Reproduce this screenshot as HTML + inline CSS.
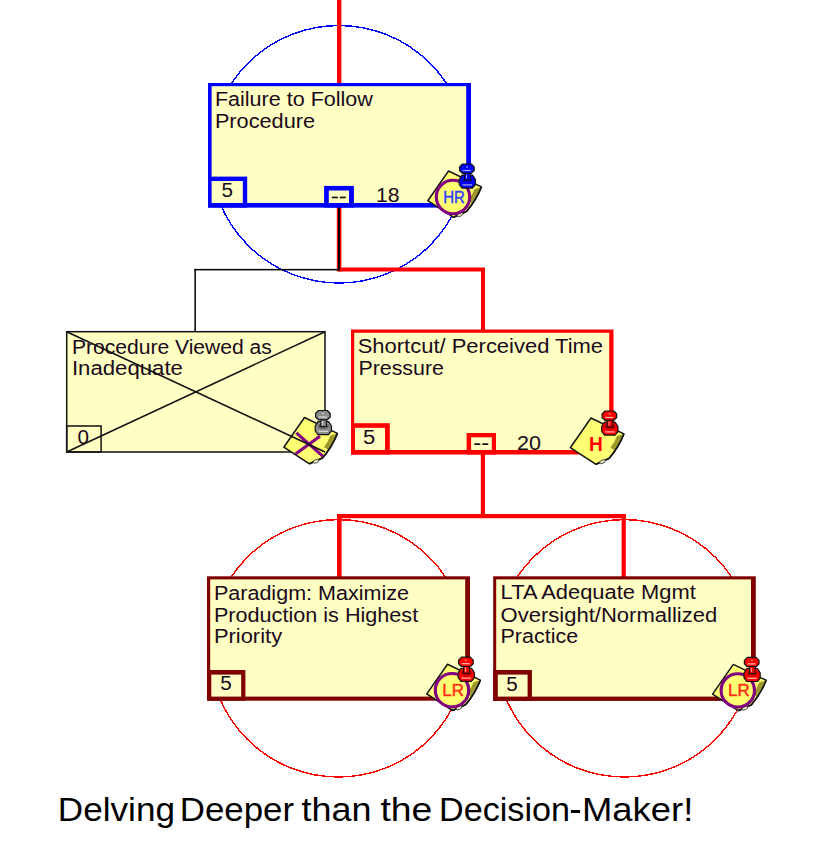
<!DOCTYPE html><html><head><meta charset="utf-8"><style>html,body{margin:0;padding:0;background:#fff;width:820px;height:855px;overflow:hidden}svg{display:block}text{font-family:"Liberation Sans",sans-serif;white-space:pre}</style></head><body>
<svg width="820" height="855" viewBox="0 0 820 855">
<circle cx="339" cy="154.25" r="128.75" fill="none" stroke="#0000FF" stroke-width="1.45" shape-rendering="crispEdges"/>
<circle cx="338.3" cy="648.3" r="128.7" fill="none" stroke="#FF0000" stroke-width="1.45" shape-rendering="crispEdges"/>
<circle cx="624.4" cy="648.3" r="128.7" fill="none" stroke="#FF0000" stroke-width="1.45" shape-rendering="crispEdges"/>
<g fill="#FF0000">
<rect x="337" y="0" width="4.4" height="85"/>
<rect x="336.8" y="205" width="4.6" height="66.4"/>
<rect x="338" y="267.5" width="147" height="4"/>
<rect x="481" y="268" width="4" height="63"/>
<rect x="480.8" y="452" width="4.2" height="66"/>
<rect x="337" y="514" width="288.8" height="4.2"/>
<rect x="337" y="514" width="4.6" height="64"/>
<rect x="621.6" y="514" width="4.2" height="64"/>
</g>
<g fill="#000">
<rect x="338" y="205" width="2" height="65.5"/>
<rect x="194.4" y="268.9" width="145" height="1.5"/>
<rect x="194.4" y="268.9" width="1.5" height="63"/>
</g>
<rect x="208" y="83" width="263.00" height="124.60" fill="#0000FF"/>
<rect x="211.6" y="86.2" width="254.60" height="116.80" fill="#FFFFC4"/>
<rect x="208" y="176.6" width="39.20" height="31.00" fill="#0000FF"/>
<rect x="211.6" y="181" width="31.20" height="22.00" fill="#FFFFC4"/>
<rect x="324.1" y="185.9" width="29.80" height="21.70" fill="#0000FF"/>
<rect x="328.8" y="190.5" width="20.20" height="12.50" fill="#FFFFC4"/>
<text x="214.9" y="105.7" font-size="19.5" fill="#1a0a1a" textLength="158" lengthAdjust="spacingAndGlyphs">Failure to Follow</text>
<text x="214.9" y="127.6" font-size="19.5" fill="#1a0a1a" textLength="100.2" lengthAdjust="spacingAndGlyphs">Procedure</text>
<text x="221.5" y="196.7" font-size="19.5" fill="#1a0a1a" textLength="11.5" lengthAdjust="spacingAndGlyphs">5</text>
<rect x="331.8" y="196.6" width="6" height="1.7" fill="#111"/><rect x="339.8" y="196.6" width="6" height="1.7" fill="#111"/>
<text x="376" y="202.2" font-size="19.5" fill="#1a0a1a" textLength="23.5" lengthAdjust="spacingAndGlyphs">18</text>
<g transform="translate(471,207.5)">
<path d="M-22.5,-36.5 L10.4,-20.6 Q5,-7 -4.5,4 L-17.5,9.8 L-43.2,-6.8 Z" fill="#FFFF73" stroke="#151515" stroke-width="1.5" stroke-linejoin="round"/>
<path d="M10.4,-20.6 Q6,-11 0.5,-4.5 L-3,-7 Q1,-12 3.5,-18.5 Z" fill="#9C982C"/>
<path d="M10.4,-20.6 Q5,-7 -4.5,4 L-17.5,9.8" fill="none" stroke="#151515" stroke-width="1.5"/>
<ellipse cx="-11" cy="7.2" rx="3.2" ry="1.6" transform="rotate(-25 -11 7.2)" fill="#E8E8C0" stroke="#333" stroke-width="0.8"/>
<circle cx="-18" cy="-10.5" r="16.7" fill="none" stroke="#800080" stroke-width="3.1"/>
<text x="-27.7" y="-4.7" font-size="16.5" fill="#3040FF" stroke="#3040FF" stroke-width="0.5" textLength="21.6" lengthAdjust="spacingAndGlyphs">HR</text>
<path d="M-9,-32.4 L1.6,-32.4 L4.4,-28 L4.4,-23 L1.5,-19.4 L-9,-19.4 L-11.8,-23 L-11.8,-28 Z" fill="#0000FF" stroke="#111" stroke-width="1.2" stroke-linejoin="round"/>
<ellipse cx="-3.7" cy="-28" rx="5.5" ry="3" fill="#0000B0"/>
<line x1="-8.5" y1="-22.6" x2="1" y2="-22.6" stroke="#A0A0FF" stroke-width="1.3"/>
<rect x="-6.3" y="-35" width="5.6" height="7.5" fill="#0000FF" stroke="#111" stroke-width="1"/>
<line x1="-4.5" y1="-33" x2="-4.5" y2="-29" stroke="#A0A0FF" stroke-width="1"/>
<path d="M-8.5,-43.5 L0.3,-43.5 L3.2,-40.5 L3.2,-37 L0.3,-34.2 L-8.5,-34.2 L-11.4,-37 L-11.4,-40.5 Z" fill="#0000FF" stroke="#111" stroke-width="1.2" stroke-linejoin="round"/>
<line x1="-8.3" y1="-37" x2="-0.2" y2="-37" stroke="#A0A0FF" stroke-width="1.3"/>
<rect x="-5" y="-41" width="2" height="1" fill="#A0A0FF"/>
</g>
<rect x="66.7" y="331.7" width="258.3" height="120.3" fill="#FFFFC4" stroke="#111" stroke-width="1.5"/>
<rect x="66.7" y="426" width="34.4" height="26" fill="none" stroke="#111" stroke-width="1.5"/>
<text x="71.9" y="353.6" font-size="19.5" fill="#1a0a1a" textLength="200" lengthAdjust="spacingAndGlyphs">Procedure Viewed as</text>
<text x="71.9" y="374.9" font-size="19.5" fill="#1a0a1a" textLength="111" lengthAdjust="spacingAndGlyphs">Inadequate</text>
<text x="77.5" y="443.7" font-size="19.5" fill="#1a0a1a" textLength="11.5" lengthAdjust="spacingAndGlyphs">0</text>
<g transform="translate(327,454)">
<path d="M-22.5,-36.5 L10.4,-20.6 Q5,-7 -4.5,4 L-17.5,9.8 L-43.2,-6.8 Z" fill="#FFFF73" stroke="#151515" stroke-width="1.5" stroke-linejoin="round"/>
<path d="M10.4,-20.6 Q6,-11 0.5,-4.5 L-3,-7 Q1,-12 3.5,-18.5 Z" fill="#9C982C"/>
<path d="M10.4,-20.6 Q5,-7 -4.5,4 L-17.5,9.8" fill="none" stroke="#151515" stroke-width="1.5"/>
<ellipse cx="-11" cy="7.2" rx="3.2" ry="1.6" transform="rotate(-25 -11 7.2)" fill="#E8E8C0" stroke="#333" stroke-width="0.8"/>
<line x1="-30.7" y1="-21.1" x2="-4" y2="2.3" stroke="#800080" stroke-width="3.1"/>
<line x1="-7" y1="-17.8" x2="-31.5" y2="0.1" stroke="#800080" stroke-width="3.1"/>
<path d="M-9,-32.4 L1.6,-32.4 L4.4,-28 L4.4,-23 L1.5,-19.4 L-9,-19.4 L-11.8,-23 L-11.8,-28 Z" fill="#8C8C8C" stroke="#111" stroke-width="1.2" stroke-linejoin="round"/>
<ellipse cx="-3.7" cy="-28" rx="5.5" ry="3" fill="#5A5A5A"/>
<line x1="-8.5" y1="-22.6" x2="1" y2="-22.6" stroke="#D8D8D8" stroke-width="1.3"/>
<rect x="-6.3" y="-35" width="5.6" height="7.5" fill="#8C8C8C" stroke="#111" stroke-width="1"/>
<line x1="-4.5" y1="-33" x2="-4.5" y2="-29" stroke="#D8D8D8" stroke-width="1"/>
<path d="M-8.5,-43.5 L0.3,-43.5 L3.2,-40.5 L3.2,-37 L0.3,-34.2 L-8.5,-34.2 L-11.4,-37 L-11.4,-40.5 Z" fill="#8C8C8C" stroke="#111" stroke-width="1.2" stroke-linejoin="round"/>
<line x1="-8.3" y1="-37" x2="-0.2" y2="-37" stroke="#D8D8D8" stroke-width="1.3"/>
<rect x="-5" y="-41" width="2" height="1" fill="#D8D8D8"/>
</g>
<line x1="66.7" y1="331.7" x2="325" y2="452" stroke="#111" stroke-width="1.5"/>
<line x1="66.7" y1="452" x2="325" y2="331.7" stroke="#111" stroke-width="1.5"/>
<rect x="351" y="329.5" width="262.50" height="125.00" fill="#FF0000"/>
<rect x="354.2" y="332.8" width="255.00" height="117.20" fill="#FFFFC4"/>
<rect x="351" y="423.2" width="38.80" height="31.30" fill="#FF0000"/>
<rect x="355" y="427.8" width="30.00" height="22.20" fill="#FFFFC4"/>
<rect x="466.6" y="433" width="29.40" height="21.50" fill="#FF0000"/>
<rect x="471.1" y="437.3" width="20.70" height="12.70" fill="#FFFFC4"/>
<text x="357.7" y="353" font-size="19.5" fill="#1a0a1a" textLength="245.4" lengthAdjust="spacingAndGlyphs">Shortcut/ Perceived Time</text>
<text x="358.4" y="374.5" font-size="19.5" fill="#1a0a1a" textLength="85.5" lengthAdjust="spacingAndGlyphs">Pressure</text>
<text x="363" y="443.7" font-size="19.5" fill="#1a0a1a" textLength="12.3" lengthAdjust="spacingAndGlyphs">5</text>
<rect x="474.3" y="443.3" width="6" height="1.7" fill="#111"/><rect x="482.3" y="443.3" width="6" height="1.7" fill="#111"/>
<text x="517" y="449.6" font-size="19.5" fill="#1a0a1a" textLength="24" lengthAdjust="spacingAndGlyphs">20</text>
<g transform="translate(613.5,454.5)">
<path d="M-22.5,-36.5 L10.4,-20.6 Q5,-7 -4.5,4 L-17.5,9.8 L-43.2,-6.8 Z" fill="#FFFF73" stroke="#151515" stroke-width="1.5" stroke-linejoin="round"/>
<path d="M10.4,-20.6 Q6,-11 0.5,-4.5 L-3,-7 Q1,-12 3.5,-18.5 Z" fill="#9C982C"/>
<path d="M10.4,-20.6 Q5,-7 -4.5,4 L-17.5,9.8" fill="none" stroke="#151515" stroke-width="1.5"/>
<ellipse cx="-11" cy="7.2" rx="3.2" ry="1.6" transform="rotate(-25 -11 7.2)" fill="#E8E8C0" stroke="#333" stroke-width="0.8"/>
<text x="-24.6" y="-3.5" font-size="19.5" font-weight="bold" fill="#FF0000" textLength="13.8" lengthAdjust="spacingAndGlyphs">H</text>
<path d="M-9,-32.4 L1.6,-32.4 L4.4,-28 L4.4,-23 L1.5,-19.4 L-9,-19.4 L-11.8,-23 L-11.8,-28 Z" fill="#FF0000" stroke="#111" stroke-width="1.2" stroke-linejoin="round"/>
<ellipse cx="-3.7" cy="-28" rx="5.5" ry="3" fill="#B00000"/>
<line x1="-8.5" y1="-22.6" x2="1" y2="-22.6" stroke="#FFB0B0" stroke-width="1.3"/>
<rect x="-6.3" y="-35" width="5.6" height="7.5" fill="#FF0000" stroke="#111" stroke-width="1"/>
<line x1="-4.5" y1="-33" x2="-4.5" y2="-29" stroke="#FFB0B0" stroke-width="1"/>
<path d="M-8.5,-43.5 L0.3,-43.5 L3.2,-40.5 L3.2,-37 L0.3,-34.2 L-8.5,-34.2 L-11.4,-37 L-11.4,-40.5 Z" fill="#FF0000" stroke="#111" stroke-width="1.2" stroke-linejoin="round"/>
<line x1="-8.3" y1="-37" x2="-0.2" y2="-37" stroke="#FFB0B0" stroke-width="1.3"/>
<rect x="-5" y="-41" width="2" height="1" fill="#FFB0B0"/>
</g>
<rect x="207" y="576.3" width="263.00" height="124.40" fill="#800000"/>
<rect x="210.2" y="579.4" width="255.00" height="117.20" fill="#FFFFC4"/>
<rect x="207" y="670" width="38.40" height="30.70" fill="#800000"/>
<rect x="211.3" y="674.6" width="29.90" height="22.00" fill="#FFFFC4"/>
<text x="213.9" y="599.6" font-size="19.5" fill="#1a0a1a" textLength="195.1" lengthAdjust="spacingAndGlyphs">Paradigm: Maximize</text>
<text x="213.9" y="621.5" font-size="19.5" fill="#1a0a1a" textLength="204.3" lengthAdjust="spacingAndGlyphs">Production is Highest</text>
<text x="213.9" y="643.3" font-size="19.5" fill="#1a0a1a" textLength="68.2" lengthAdjust="spacingAndGlyphs">Priority</text>
<text x="220.2" y="690.3" font-size="19.5" fill="#1a0a1a" textLength="11.5" lengthAdjust="spacingAndGlyphs">5</text>
<g transform="translate(470,700.7)">
<path d="M-22.5,-36.5 L10.4,-20.6 Q5,-7 -4.5,4 L-17.5,9.8 L-43.2,-6.8 Z" fill="#FFFF73" stroke="#151515" stroke-width="1.5" stroke-linejoin="round"/>
<path d="M10.4,-20.6 Q6,-11 0.5,-4.5 L-3,-7 Q1,-12 3.5,-18.5 Z" fill="#9C982C"/>
<path d="M10.4,-20.6 Q5,-7 -4.5,4 L-17.5,9.8" fill="none" stroke="#151515" stroke-width="1.5"/>
<ellipse cx="-11" cy="7.2" rx="3.2" ry="1.6" transform="rotate(-25 -11 7.2)" fill="#E8E8C0" stroke="#333" stroke-width="0.8"/>
<circle cx="-18" cy="-10.5" r="16.7" fill="none" stroke="#800080" stroke-width="3.1"/>
<text x="-27.7" y="-4.7" font-size="16.5" fill="#FF3018" stroke="#FF3018" stroke-width="0.5" textLength="21.6" lengthAdjust="spacingAndGlyphs">LR</text>
<path d="M-9,-32.4 L1.6,-32.4 L4.4,-28 L4.4,-23 L1.5,-19.4 L-9,-19.4 L-11.8,-23 L-11.8,-28 Z" fill="#FF0000" stroke="#111" stroke-width="1.2" stroke-linejoin="round"/>
<ellipse cx="-3.7" cy="-28" rx="5.5" ry="3" fill="#B00000"/>
<line x1="-8.5" y1="-22.6" x2="1" y2="-22.6" stroke="#FFB0B0" stroke-width="1.3"/>
<rect x="-6.3" y="-35" width="5.6" height="7.5" fill="#FF0000" stroke="#111" stroke-width="1"/>
<line x1="-4.5" y1="-33" x2="-4.5" y2="-29" stroke="#FFB0B0" stroke-width="1"/>
<path d="M-8.5,-43.5 L0.3,-43.5 L3.2,-40.5 L3.2,-37 L0.3,-34.2 L-8.5,-34.2 L-11.4,-37 L-11.4,-40.5 Z" fill="#FF0000" stroke="#111" stroke-width="1.2" stroke-linejoin="round"/>
<line x1="-8.3" y1="-37" x2="-0.2" y2="-37" stroke="#FFB0B0" stroke-width="1.3"/>
<rect x="-5" y="-41" width="2" height="1" fill="#FFB0B0"/>
</g>
<rect x="493.2" y="576.3" width="262.60" height="124.60" fill="#800000"/>
<rect x="496.2" y="579.4" width="254.80" height="117.20" fill="#FFFFC4"/>
<rect x="493.2" y="670" width="38.70" height="30.90" fill="#800000"/>
<rect x="497.8" y="674.6" width="29.80" height="22.00" fill="#FFFFC4"/>
<text x="500.6" y="599.4" font-size="19.5" fill="#1a0a1a" textLength="195.2" lengthAdjust="spacingAndGlyphs">LTA Adequate Mgmt</text>
<text x="500.6" y="621.5" font-size="19.5" fill="#1a0a1a" textLength="216.6" lengthAdjust="spacingAndGlyphs">Oversight/Normallized</text>
<text x="500.5" y="643.3" font-size="19.5" fill="#1a0a1a" textLength="77.6" lengthAdjust="spacingAndGlyphs">Practice</text>
<text x="506.3" y="690.5" font-size="19.5" fill="#1a0a1a" textLength="11.5" lengthAdjust="spacingAndGlyphs">5</text>
<g transform="translate(755.8,700.9)">
<path d="M-22.5,-36.5 L10.4,-20.6 Q5,-7 -4.5,4 L-17.5,9.8 L-43.2,-6.8 Z" fill="#FFFF73" stroke="#151515" stroke-width="1.5" stroke-linejoin="round"/>
<path d="M10.4,-20.6 Q6,-11 0.5,-4.5 L-3,-7 Q1,-12 3.5,-18.5 Z" fill="#9C982C"/>
<path d="M10.4,-20.6 Q5,-7 -4.5,4 L-17.5,9.8" fill="none" stroke="#151515" stroke-width="1.5"/>
<ellipse cx="-11" cy="7.2" rx="3.2" ry="1.6" transform="rotate(-25 -11 7.2)" fill="#E8E8C0" stroke="#333" stroke-width="0.8"/>
<circle cx="-18" cy="-10.5" r="16.7" fill="none" stroke="#800080" stroke-width="3.1"/>
<text x="-27.7" y="-4.7" font-size="16.5" fill="#FF3018" stroke="#FF3018" stroke-width="0.5" textLength="21.6" lengthAdjust="spacingAndGlyphs">LR</text>
<path d="M-9,-32.4 L1.6,-32.4 L4.4,-28 L4.4,-23 L1.5,-19.4 L-9,-19.4 L-11.8,-23 L-11.8,-28 Z" fill="#FF0000" stroke="#111" stroke-width="1.2" stroke-linejoin="round"/>
<ellipse cx="-3.7" cy="-28" rx="5.5" ry="3" fill="#B00000"/>
<line x1="-8.5" y1="-22.6" x2="1" y2="-22.6" stroke="#FFB0B0" stroke-width="1.3"/>
<rect x="-6.3" y="-35" width="5.6" height="7.5" fill="#FF0000" stroke="#111" stroke-width="1"/>
<line x1="-4.5" y1="-33" x2="-4.5" y2="-29" stroke="#FFB0B0" stroke-width="1"/>
<path d="M-8.5,-43.5 L0.3,-43.5 L3.2,-40.5 L3.2,-37 L0.3,-34.2 L-8.5,-34.2 L-11.4,-37 L-11.4,-40.5 Z" fill="#FF0000" stroke="#111" stroke-width="1.2" stroke-linejoin="round"/>
<line x1="-8.3" y1="-37" x2="-0.2" y2="-37" stroke="#FFB0B0" stroke-width="1.3"/>
<rect x="-5" y="-41" width="2" height="1" fill="#FFB0B0"/>
</g>
<rect x="570.9" y="810" width="9.2" height="3" fill="#000"/>
<text x="57.8" y="820.8" font-size="34" fill="#000" textLength="117.2" lengthAdjust="spacingAndGlyphs">Delving</text>
<text x="179.7" y="820.8" font-size="34" fill="#000" textLength="114.4" lengthAdjust="spacingAndGlyphs">Deeper</text>
<text x="301.4" y="820.8" font-size="34" fill="#000" textLength="70.0" lengthAdjust="spacingAndGlyphs">than</text>
<text x="380.4" y="820.8" font-size="34" fill="#000" textLength="51.9" lengthAdjust="spacingAndGlyphs">the</text>
<text x="439.0" y="820.8" font-size="34" fill="#000" textLength="131.0" lengthAdjust="spacingAndGlyphs">Decision</text>
<text x="582.0" y="820.8" font-size="34" fill="#000" textLength="111.3" lengthAdjust="spacingAndGlyphs">Maker!</text>
</svg></body></html>
